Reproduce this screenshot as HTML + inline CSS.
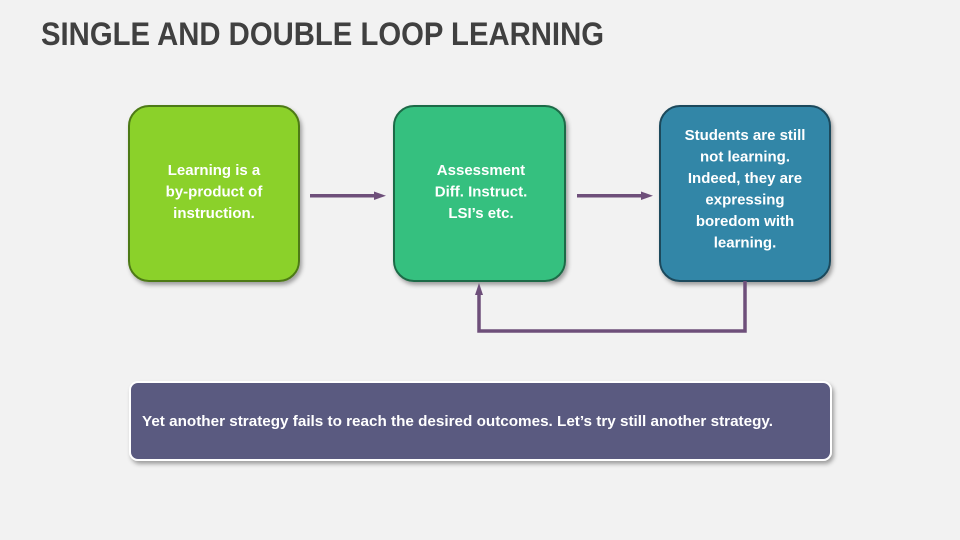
<!DOCTYPE html>
<html>
<head>
<meta charset="utf-8">
<style>
  html,body{margin:0;padding:0;background:#F2F2F2;}
  svg{display:block;}
  text{font-family:"Liberation Sans", sans-serif;font-weight:bold;}
</style>
</head>
<body>
<svg width="960" height="540" viewBox="0 0 960 540" xmlns="http://www.w3.org/2000/svg">
  <defs>
    <filter id="sh" x="-20%" y="-20%" width="140%" height="140%">
      <feDropShadow dx="2" dy="3" stdDeviation="2" flood-color="#000" flood-opacity="0.35"/>
    </filter>
  </defs>
  <rect width="960" height="540" fill="#F2F2F2"/>

  <!-- Title -->
  <text x="41" y="45" font-size="32" fill="#404040" textLength="563" lengthAdjust="spacingAndGlyphs">SINGLE AND DOUBLE LOOP LEARNING</text>

  <!-- Box 1 -->
  <rect x="129" y="106" width="170" height="175" rx="20" ry="20" fill="#8BD12A" stroke="#4E7A16" stroke-width="2" filter="url(#sh)"/>
  <g font-size="15" fill="#FFFFFF" text-anchor="middle">
    <text x="214" y="175">Learning is a</text>
    <text x="214" y="196.5">by-product of</text>
    <text x="214" y="218">instruction.</text>
  </g>

  <!-- Box 2 -->
  <rect x="394" y="106" width="171" height="175" rx="20" ry="20" fill="#35C07F" stroke="#1F6B47" stroke-width="2" filter="url(#sh)"/>
  <g font-size="15" fill="#FFFFFF" text-anchor="middle">
    <text x="481" y="175">Assessment</text>
    <text x="481" y="196.5">Diff. Instruct.</text>
    <text x="481" y="218">LSI’s etc.</text>
  </g>

  <!-- Box 3 -->
  <rect x="660" y="106" width="170" height="175" rx="20" ry="20" fill="#3386A7" stroke="#1C4A5C" stroke-width="2" filter="url(#sh)"/>
  <g font-size="15" fill="#FFFFFF" text-anchor="middle">
    <text x="745" y="140">Students are still</text>
    <text x="745" y="161.5">not learning.</text>
    <text x="745" y="183">Indeed, they are</text>
    <text x="745" y="204.5">expressing</text>
    <text x="745" y="226">boredom with</text>
    <text x="745" y="247.5">learning.</text>
  </g>

  <!-- Arrows -->
  <g fill="#6E4F7A" stroke="none">
    <rect x="310" y="194" width="66" height="3.5"/>
    <polygon points="374,191.5 386,195.75 374,200"/>
    <rect x="577" y="194" width="66" height="3.5"/>
    <polygon points="641,191.5 653,195.75 641,200"/>
  </g>

  <!-- Loop connector -->
  <polyline points="745,281 745,331 479,331 479,294" fill="none" stroke="#6E4F7A" stroke-width="3.5"/>
  <polygon points="475,295 479,283 483,295" fill="#6E4F7A"/>

  <!-- Bottom box -->
  <rect x="130" y="382" width="701" height="78" rx="8" ry="8" fill="#5A5A80" stroke="#FFFFFF" stroke-width="2" filter="url(#sh)"/>
  <text x="142" y="426" font-size="15" fill="#FFFFFF" textLength="631" lengthAdjust="spacingAndGlyphs">Yet another strategy fails to reach the desired outcomes. Let’s try still another strategy.</text>
</svg>
</body>
</html>
